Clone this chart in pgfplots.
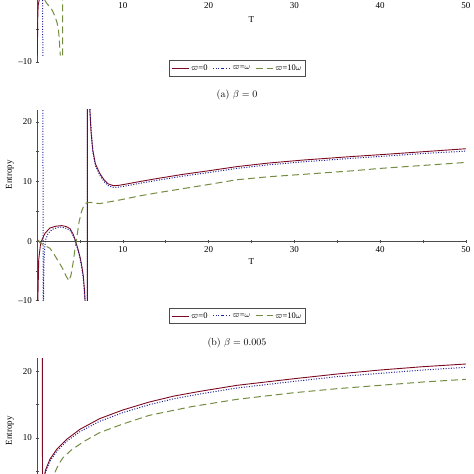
\documentclass[border=0pt]{standalone}
\usepackage{pgfplots}
\pgfplotsset{compat=1.18}
\usepackage{fontspec}
\newfontfamily\tnr{Liberation Serif}
\definecolor{mred}{RGB}{125,10,35}
\definecolor{mblue}{RGB}{30,30,150}
\definecolor{mgreen}{RGB}{115,140,65}
\pgfplotsset{
  maple/.style={
    scale only axis, width=429pt,
    xmin=0, xmax=50,
    axis lines=middle,
    axis line style={-, black!70, line width=0.6pt},
    hide obscured x ticks=false, hide obscured y ticks=false,
    xtick={10,20,30,40,50}, xticklabels={10,20,30,40,50},
    minor xtick={5,15,25,35,45},
    ytick={-10,0,10,20}, yticklabels={\textendash10,0,10,20},
    minor ytick={-5,5,15},
    major tick length=3pt, minor tick length=3pt,
    every tick/.style={black!70, line width=0.5pt},
    tick label style={font=\tnr\fontsize{9}{10}\selectfont},
    xlabel={T}, ylabel={Entropy},
    label style={font=\tnr\fontsize{9}{10}\selectfont},
    xlabel style={at={(axis description cs:0.5,0.205)}, anchor=center},
    ylabel style={at={(axis description cs:-0.063,0.66)}, anchor=center, rotate=90},
    legend columns=3,
    legend style={draw=black!70, line width=0.5pt, anchor=center,
      font=\tnr\fontsize{8.5}{10}\selectfont, inner sep=2.2pt,
      /tikz/every even column/.append style={column sep=3pt}},
    unbounded coords=jump,
  },
  sred/.style={mred, line width=0.9pt},
  sblue/.style={mblue, line width=1pt, dash pattern=on 1pt off 1.6pt},
  sgreen/.style={mgreen, line width=1pt, dash pattern=on 7pt off 4pt},
}
\begin{document}
\begin{tikzpicture}
\useasboundingbox (0,0) rectangle (474pt,474pt);
\clip (0,0) rectangle (474pt,474pt);

% (a) beta = 0
\begin{axis}[maple, at={(37pt,412pt)}, anchor=south west, height=208pt,
  ymin=-10, ymax=22, ytick={-10,0}, yticklabels={\textendash10,0}, ylabel={},
  legend style={at={(axis description cs:0.467,-0.031)}}]
\addplot[sred] coordinates {
  (0.05,-9) (0.07,-5) (0.1,-2.5) (0.15,-1.2) (0.25,-0.5) (0.4,0) (0.6,0.5)
};
\addplot[sblue] coordinates {
  (0.65,-0.5) (0.68,-9.2)
};
\addplot[sgreen] coordinates {
  (0.9,-0.5) (1.2,-1.1) (1.5,-1.5) (1.8,-2.1) (2.1,-3) (2.35,-4)
  (2.5,-5.1) (2.6,-6.5) (2.67,-8.2) (2.72,-9)
  (2.85,nan) (2.99,-9) (2.99,2)
};
\legend{$\varpi$=0,$\varpi$=$\omega$,$\varpi$=10$\omega$}
\end{axis}

% (b) beta = 0.005
\begin{axis}[maple, at={(37pt,173.3pt)}, anchor=south west, height=190.7pt,
  ymin=-10, ymax=22,
  legend style={at={(axis description cs:0.467,-0.08)}}]
\addplot[sred] coordinates {
  (0.02,-40) (0.1,-10) (0.2,-3.1) (0.43,-0.3) (0.7,0.6) (0.93,1.3)
  (1.5,2.2) (2.2,2.5) (2.87,2.6) (3.4,2.45) (3.84,2.1) (4.2,1.2)
  (4.5,0) (4.8,-1.5) (5.0,-2.6) (5.2,-4.0) (5.4,-5.9) (5.55,-8.5)
  (5.62,-10.5) (5.75,-20) (5.86,-60) (5.88,80) (6.0,40) (6.16,22)
  (6.3,18.3) (6.5,15.3) (6.8,13) (7.3,11.4) (7.8,10.3) (8.3,9.6)
  (8.9,9.3) (9.5,9.35) (10.5,9.6) (12,10.0) (14,10.5) (17,11.2)
  (20,11.8) (23.3,12.5) (27,13.1) (31,13.6) (36.8,14.2) (40,14.5)
  (45,15.0) (50,15.5)
};
\addplot[sblue] coordinates {
  (0.68,80) (0.72,-60) (0.76,-10) (0.8,-4) (0.9,-1) (1.0,0.2)
  (1.3,1.3) (1.8,2.0) (2.5,2.3) (2.9,2.35) (3.5,2.1) (3.9,1.7)
  (4.3,0.7) (4.5,-0.2) (4.8,-1.6) (5.0,-2.8) (5.2,-4.3) (5.4,-6.3)
  (5.55,-9.2) (5.62,-11) (5.75,-20) (5.85,-60) (5.87,80) (6.0,40)
  (6.2,21) (6.5,15.0) (6.8,12.7) (7.3,11.1) (7.8,10.0) (8.3,9.3)
  (8.9,9.0) (9.5,9.05) (10.5,9.3) (12,9.7) (14,10.2) (17,10.9)
  (20,11.5) (23.3,12.2) (27,12.8) (31,13.3) (36.8,13.9) (40,14.2)
  (45,14.7) (50,15.1)
};
\addplot[sgreen] coordinates {
  (0.15,0.2) (0.35,-0.3) (0.73,-0.6) (1.5,-1.2) (1.9,-2) (2.7,-3.9)
  (3.06,-4.8) (3.4,-5.9) (3.72,-6.65) (3.95,-5.8) (4.2,-3.7) (4.4,-1.6)
  (4.6,0.2) (4.9,3.2) (5.2,5.0) (5.5,6.1) (5.77,6.4) (6.2,6.5)
  (6.8,6.35) (7.3,6.3) (8.5,6.6) (10,7.0) (12,7.6) (14,8.1) (17,8.8)
  (20,9.5) (23.3,10.3) (27,10.8) (31,11.2) (36.8,11.8) (40,12.2)
  (45,12.7) (50,13.2)
};
\legend{$\varpi$=0,$\varpi$=$\omega$,$\varpi$=10$\omega$}
\end{axis}

% lower panel, only its upper part is in view
\begin{axis}[maple, at={(37pt,-97.3pt)}, anchor=south west, height=213.3pt,
  ymin=-10, ymax=22, ytick={10,20}, yticklabels={10,20},
  xticklabels={}, xlabel={}]
\addplot[sred] coordinates {
  (0.6,60) (0.66,-30) (0.72,-5) (0.8,2.5) (0.9,4.6) (1.0,5.2)
  (1.5,6.8) (2.3,8.3) (3.45,9.8) (5,11.3) (7.3,12.9) (10,14.2)
  (13.1,15.4) (16,16.3) (19,17.0) (23.3,17.9) (30,18.9) (35,19.6)
  (40,20.2) (45,20.7) (50,21.1)
};
\addplot[sblue] coordinates {
  (0.8,2.0) (0.9,4.3) (1.0,4.9) (1.5,6.5) (2.3,8.0) (3.45,9.5)
  (5,10.95) (7.3,12.5) (10,13.8) (13.1,15.0) (16,15.9) (19,16.6)
  (23.3,17.5) (30,18.5) (35,19.2) (40,19.7) (45,20.2) (50,20.6)
};
\addplot[sgreen] coordinates {
  (1.6,-5) (1.8,2) (2.0,4.6) (2.5,6.0) (3,7.0) (4,8.2) (5.5,9.5)
  (7.3,10.8) (10,12.1) (13.1,13.4) (18,14.7) (23.3,15.8) (30,16.8)
  (35,17.4) (40,17.9) (45,18.4) (50,18.8)
};
\end{axis}

\node[font=\fontsize{10}{12}\selectfont] at (237pt,379pt) {(a) $\beta = 0$};
\node[font=\fontsize{10}{12}\selectfont] at (237pt,131pt) {(b) $\beta = 0.005$};
\end{tikzpicture}
\end{document}
